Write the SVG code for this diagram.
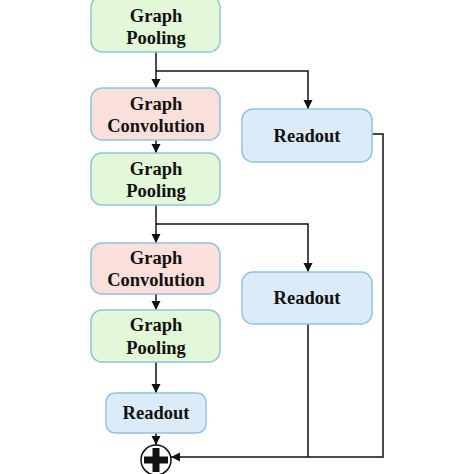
<svg xmlns="http://www.w3.org/2000/svg" width="474" height="474" viewBox="0 0 474 474">
<defs>
<style>
.box{stroke:#8fc4de;stroke-width:1.5}
.pool{fill:#e3f8d8}
.conv{fill:#fbdfda}
.read{fill:#dcebf8}
.t{font-family:"Liberation Serif","Times New Roman",serif;font-weight:bold;font-size:18.5px;fill:#111;text-anchor:middle}
.ln{fill:none;stroke:#111;stroke-width:1.5}
</style>
<marker id="ah" markerWidth="10" markerHeight="10" refX="9" refY="5" orient="auto" markerUnits="userSpaceOnUse">
<path d="M0,0.5 L9,5 L0,9.5 Z" fill="#111"/>
</marker>
</defs>
<rect width="474" height="474" fill="#fff"/>
<g id="connectors">
<path class="ln" d="M156,52 V88" marker-end="url(#ah)"/>
<path class="ln" d="M156,71 H308 V109" marker-end="url(#ah)"/>
<path class="ln" d="M156,140 V153" marker-end="url(#ah)"/>
<path class="ln" d="M156,205 V243" marker-end="url(#ah)"/>
<path class="ln" d="M156,224 H308 V272" marker-end="url(#ah)"/>
<path class="ln" d="M156,294 V310" marker-end="url(#ah)"/>
<path class="ln" d="M156,362 V393" marker-end="url(#ah)"/>
<path class="ln" d="M156,433 V445" marker-end="url(#ah)"/>
<path class="ln" d="M372,134 H383 V457 H171" marker-end="url(#ah)"/>
<path class="ln" d="M308,324 V457"/>
</g>
<g id="pool1"><rect class="box pool" x="91" y="-4" width="129" height="56" rx="11"/><text class="t" x="156" y="22">Graph</text><text class="t" x="156" y="44">Pooling</text></g>
<g id="conv1"><rect class="box conv" x="91" y="88" width="129" height="52" rx="11"/><text class="t" x="156" y="110">Graph</text><text class="t" x="156" y="132">Convolution</text></g>
<g id="pool2"><rect class="box pool" x="91" y="153" width="129" height="52" rx="11"/><text class="t" x="156" y="175">Graph</text><text class="t" x="156" y="197">Pooling</text></g>
<g id="conv2"><rect class="box conv" x="91" y="243" width="129" height="51" rx="11"/><text class="t" x="156" y="264">Graph</text><text class="t" x="156" y="286">Convolution</text></g>
<g id="pool3"><rect class="box pool" x="91" y="310" width="129" height="52" rx="11"/><text class="t" x="156" y="331">Graph</text><text class="t" x="156" y="354">Pooling</text></g>
<g id="readout1"><rect class="box read" x="242" y="109" width="130" height="53" rx="11"/><text class="t" x="307" y="142">Readout</text></g>
<g id="readout2"><rect class="box read" x="242" y="272" width="130" height="52" rx="11"/><text class="t" x="307" y="304">Readout</text></g>
<g id="readout3"><rect class="box read" x="106" y="393" width="100" height="40" rx="9"/><text class="t" x="156" y="419">Readout</text></g>
<g id="sum">
<circle cx="156" cy="460" r="15" fill="#fff" stroke="#111" stroke-width="1.5"/>
<path d="M156,448 V472 M144,460 H168" stroke="#111" stroke-width="7" fill="none"/>
</g>
</svg>
